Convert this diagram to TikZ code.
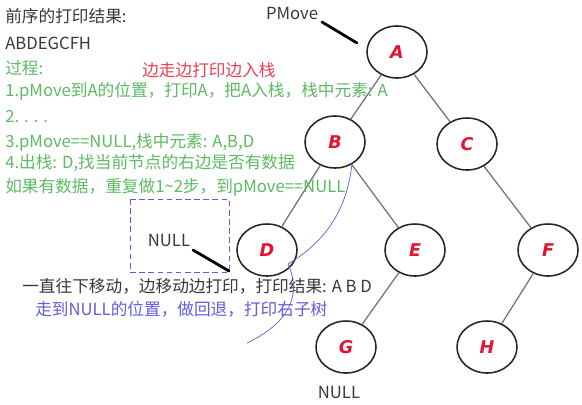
\documentclass[tikz,border=0pt]{standalone}
\usepackage{fontspec}
\setmainfont{Noto Sans CJK SC}
\newfontfamily\letterfont{DejaVu Sans}
\usetikzlibrary{shapes.geometric}
\definecolor{textgray}{RGB}{55,55,60}
\definecolor{stepgreen}{RGB}{92,186,98}
\definecolor{notered}{RGB}{236,64,84}
\definecolor{noteblue}{RGB}{96,92,222}
\definecolor{letterred}{RGB}{226,20,50}
\definecolor{edgegray}{RGB}{115,115,115}

\begin{document}
\begin{tikzpicture}[x=0.025cm,y=-0.025cm,
  every node/.style={inner sep=0pt,font=\fontsize{11.85}{14}\selectfont},
  tnode/.style={ellipse,draw=black!85,line width=1.1pt,minimum width=1.5cm,minimum height=1.3cm,
    text=letterred,font=\letterfont\bfseries\itshape\fontsize{12.5}{13}\selectfont},
  line/.style={anchor=west,text=textgray},
  stepline/.style={anchor=west,text=stepgreen},
  edge/.style={draw=edgegray,line width=0.9pt},
  pointer/.style={line width=2pt,line cap=round}]
  \useasboundingbox (0,0) rectangle (582,404);

  % tree
  \node[tnode] (A) at (397,52) {A};
  \node[tnode] (B) at (335,142) {B};
  \node[tnode] (C) at (467,144) {C};
  \node[tnode] (D) at (267,250) {D};
  \node[tnode] (E) at (415,250) {E};
  \node[tnode] (F) at (548,250) {F};
  \node[tnode] (G) at (346,347) {G};
  \node[tnode] (H) at (487,347) {H};
  \draw[edge] (A) -- (B);
  \draw[edge] (A) -- (C);
  \draw[edge] (B) -- (D);
  \draw[edge] (B) -- (E);
  \draw[edge] (C) -- (F);
  \draw[edge] (E) -- (G);
  \draw[edge] (F) -- (H);

  % pointers
  \node[text=textgray] (pmove) at (292,13) {PMove};
  \coordinate (pmoveend) at (357,43);
  \draw[pointer] (322,22) -- (pmoveend);
  \draw[noteblue,dashed,line width=0.7pt,dash pattern=on 4pt off 2.5pt] (130,199) rectangle (229,272);
  \node[text=textgray] (nullbox) at (169,240) {NULL};
  \coordinate (nullend) at (229,271);
  \draw[pointer] (193,250) -- (nullend);
  \node[text=textgray] (nullg) at (339,392) {NULL};

  % text
  \node[line] (res) at (5,16) {前序的打印结果:};
  \node[line] (order) at (5,43) {ABDEGCFH};
  \node[stepline] (proc) at (5,68) {过程:};
  \node[anchor=west,text=notered] (rule) at (142,70) {边走边打印边入栈};
  \node[stepline] (s1) at (5,91) {1.pMove到A的位置，打印A，把A入栈，栈中元素: A};
  \node[stepline] (s2) at (5,117) {2. . . .};
  \node[stepline] (s3) at (5,142) {3.pMove==NULL,栈中元素: A,B,D};
  \node[stepline] (s4) at (5,163) {4.出栈: D,找当前节点的右边是否有数据};
  \node[stepline] (s5) at (5,187) {如果有数据，重复做1\textasciitilde2步，到pMove==NULL};
  \node[line] (down) at (22,286) {一直往下移动，边移动边打印，打印结果: A B D};
  \node[anchor=west,text=noteblue] (back) at (35,309) {走到NULL的位置，做回退，打印右子树};

  % back path
  \draw[noteblue,line width=0.5pt] (352,163) .. controls (347,215) and (320,245) .. (288,264)
    .. controls (300,290) and (295,320) .. (247,343);
\end{tikzpicture}
\end{document}
